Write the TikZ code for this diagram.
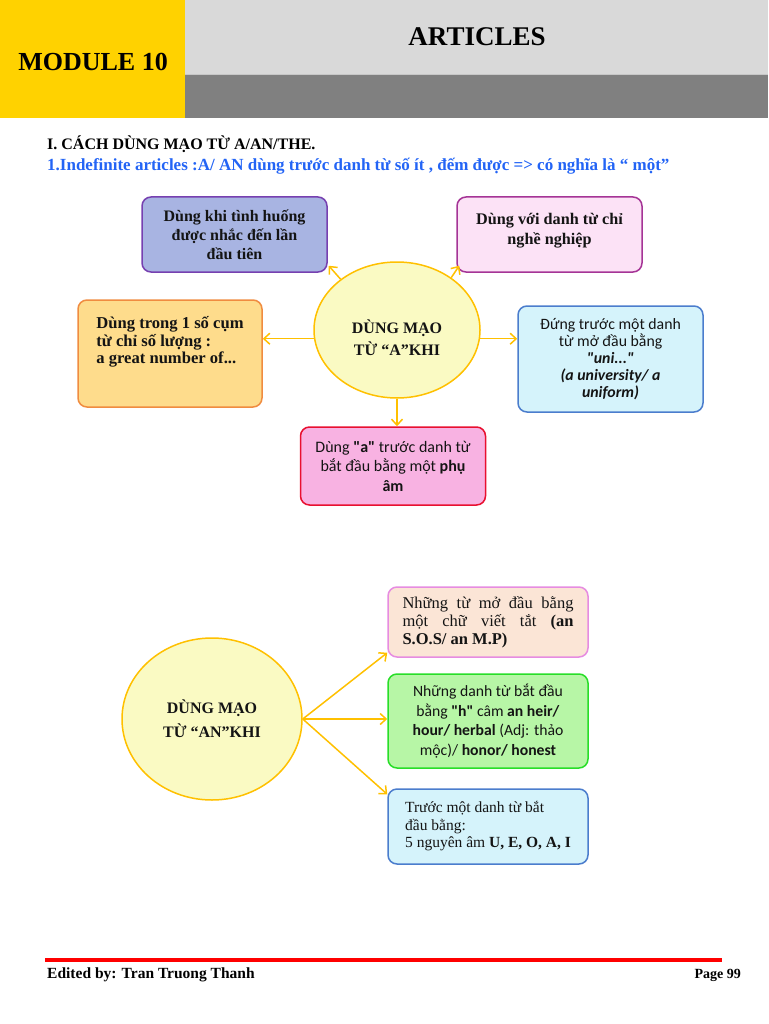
\documentclass[tikz,border=0pt]{standalone}
\usepackage{fontspec}
\setmainfont{Liberation Serif}
\newfontfamily\calibri{Carlito}
\usetikzlibrary{arrows.meta,positioning,calc,shapes.geometric}
\definecolor{textdark}{RGB}{20,20,20}
\definecolor{headyellow}{RGB}{255,210,0}
\definecolor{headlight}{RGB}{217,217,217}
\definecolor{headdark}{RGB}{128,128,128}
\definecolor{headingblue}{RGB}{35,100,245}
\definecolor{hubfill}{RGB}{250,250,195}
\definecolor{hubline}{RGB}{255,192,0}
\definecolor{firstfill}{RGB}{168,180,226}
\definecolor{firstline}{RGB}{118,64,176}
\definecolor{jobfill}{RGB}{252,226,246}
\definecolor{jobline}{RGB}{165,52,150}
\definecolor{phrasefill}{RGB}{254,220,140}
\definecolor{phraseline}{RGB}{240,140,64}
\definecolor{unifill}{RGB}{213,243,251}
\definecolor{uniline}{RGB}{75,125,205}
\definecolor{consfill}{RGB}{248,178,226}
\definecolor{consline}{RGB}{232,16,48}
\definecolor{abbrfill}{RGB}{251,229,214}
\definecolor{abbrline}{RGB}{230,140,225}
\definecolor{hfill}{RGB}{183,246,166}
\definecolor{hline}{RGB}{40,222,40}
\definecolor{footred}{RGB}{255,0,0}

\tikzset{
  hub/.style={ellipse,draw=hubline,fill=hubfill,line width=1.5pt,inner sep=0pt,align=center,text=textdark,
    font=\bfseries\fontsize{16}{22}\selectfont},
  card/.style={rectangle,rounded corners=9pt,line width=1.5pt,minimum width=185pt,inner sep=0pt,text=textdark},
  link/.style={draw=hubline,line width=1.5pt,-{Straight Barb[length=6pt,width=11pt]}}
}

\begin{document}
\begin{tikzpicture}[x=1pt,y=-1pt]
\useasboundingbox (0,0) rectangle (768,1024);
% header band
\fill[headyellow] (0,0) rectangle (185,118);
\fill[headlight] (185,0) rectangle (768,74);
\fill[black!22] (185,74) rectangle (768,75.5);
\fill[headdark] (185,75.5) rectangle (768,118);
\node[font=\bfseries\fontsize{26}{30}\selectfont] (module) at (93,62) {MODULE 10};
\node[font=\bfseries\fontsize{27}{30}\selectfont] (title) at (477,37) {ARTICLES};

% section headings
\node[anchor=base west,inner sep=0pt,font=\bfseries\fontsize{16}{19}\selectfont] (sect) at (47,150) {I. CÁCH DÙNG MẠO TỪ A/AN/THE.};
\node[anchor=base west,inner sep=0pt,text=headingblue,font=\bfseries\fontsize{17}{19}\selectfont] (indef) at (47,171)
  {1.Indefinite articles :A/ AN dùng trước danh từ số ít , đếm được => có nghĩa là “ một”};

% diagram for "a"
\node[hub,minimum width=166pt,minimum height=136pt,text height=52pt,text depth=2pt] (hubA) at (397,330) {DÙNG MẠO\\TỪ “A”KHI};
\node[card,draw=firstline,fill=firstfill,minimum height=75pt,align=center,font=\bfseries\fontsize{16}{19}\selectfont] (first) at (234.5,234.5)
  {Dùng khi tình huống\\được nhắc đến lần\\đầu tiên};
\node[card,draw=jobline,fill=jobfill,minimum height=75pt,align=center,text depth=12pt,font=\bfseries\fontsize{16.2}{20}\selectfont] (job) at (549.5,234.5)
  {Dùng với danh từ chỉ\\nghề nghiệp};
\node[card,draw=phraseline,fill=phrasefill,minimum width=184pt,minimum height=107pt,align=left,text depth=27pt,font=\bfseries\fontsize{16.6}{17.5}\selectfont] (phrase) at (170,353.5)
  {Dùng trong 1 số cụm\\từ chỉ số lượng :\\a great number of...};
\node[card,draw=uniline,fill=unifill,minimum height=106pt,align=center,font=\calibri\fontsize{15.8}{17}\selectfont] (uni) at (610.5,359)
  {Đứng trước một danh\\từ mở đầu bằng\\\textbf{\textit{"uni..."}}\\\textbf{\textit{(a university/ a}}\\\textbf{\textit{uniform)}}};
\node[card,draw=consline,fill=consfill,minimum height=78pt,align=center,font=\calibri\fontsize{16}{19.5}\selectfont] (cons) at (393,466)
  {Dùng \textbf{"a"} trước danh từ\\bắt đầu bằng một \textbf{phụ}\\\textbf{âm}};

\draw[link] (hubA.138) -- ($(first.south east)+(1,-7)$);
\draw[link] (hubA.44) -- ($(job.south west)+(3,-7)$);
\draw[link] (hubA.186) -- (phrase.east |- hubA.186);
\draw[link] (hubA.-6) -- (uni.west |- hubA.-6);
\draw[link] (hubA.south) -- (cons.north -| hubA.south);

% diagram for "an"
\node[hub,minimum width=180pt,minimum height=162pt,font=\bfseries\fontsize{16}{24}\selectfont] (hubAn) at (212,719) {DÙNG MẠO\\TỪ “AN”KHI};
\node[card,draw=abbrline,fill=abbrfill,minimum width=200pt,minimum height=70pt,text width=171pt,align=justify,font=\fontsize{16.5}{18}\selectfont] (abbr) at (488,622)
  {Những từ mở đầu bằng\linebreak một chữ viết tắt \textbf{(an}\linebreak \textbf{S.O.S/ an M.P)}};
\node[card,draw=hline,fill=hfill,minimum width=200pt,minimum height=94pt,align=center,font=\calibri\fontsize{15.7}{19.5}\selectfont] (hsil) at (488,721)
  {Những danh từ bắt đầu\\bằng \textbf{"h"} câm \textbf{an heir/}\\\textbf{hour/ herbal} (Adj: thảo\\mộc)/ \textbf{honor/ honest}};
\node[card,draw=uniline,fill=unifill,minimum width=200pt,minimum height=75pt,align=left,font=\fontsize{15.5}{17.5}\selectfont] (vowel) at (488,826.5)
  {Trước một danh từ bắt\\đầu bằng:\\5 nguyên âm \textbf{U, E, O, A, I}};

\draw[link] (hubAn.east) -- ($(abbr.south west)+(0,-5)$);
\draw[link] (hubAn.east) -- (hsil.west |- hubAn.east);
\draw[link] (hubAn.east) -- ($(vowel.north west)+(0,6)$);

% footer
\coordinate (footL) at (45,960);
\coordinate (footR) at (722,960);
\draw[footred,line width=4pt] (footL) -- (footR);
\node[anchor=base west,inner sep=0pt,font=\bfseries\fontsize{15.5}{17}\selectfont] (editor) at (47,978) {Edited by: Tran Truong Thanh};
\node[anchor=base east,inner sep=0pt,font=\bfseries\fontsize{14}{17}\selectfont] (page) at (741,978) {Page 99};
\end{tikzpicture}
\end{document}
